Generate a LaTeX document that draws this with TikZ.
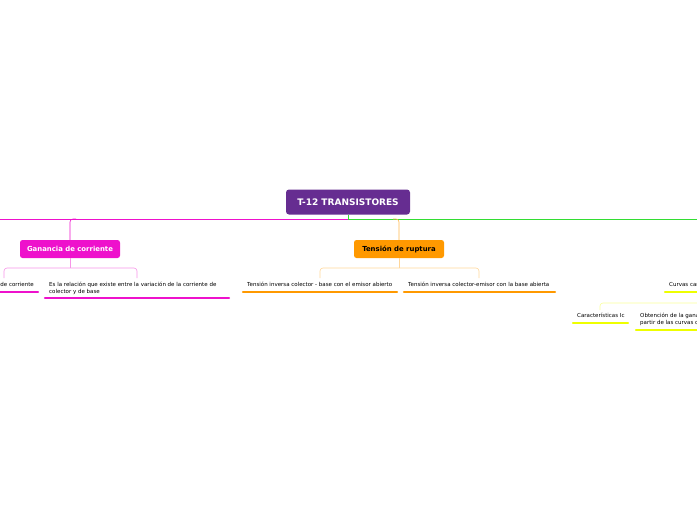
\documentclass[tikz,border=0pt]{standalone}
\usepackage{fontspec}
\setmainfont{DejaVu Sans}
\begin{document}
\begin{tikzpicture}[x=1pt,y=-1pt,
  main/.style={fill=mpurple,rounded corners=3pt,text=white,font=\bfseries\fontsize{9}{10}\selectfont,minimum width=124pt,minimum height=25pt,inner sep=0pt},
  topic/.style={rounded corners=2.5pt,font=\bfseries\fontsize{6.9}{8}\selectfont,minimum height=18pt,inner sep=0pt},
  leaf/.style={font=\fontsize{5.5}{7}\selectfont,align=left,inner sep=0pt,anchor=north west},
  ul/.style={line width=2.2pt,line cap=round}]
\definecolor{mpurple}{HTML}{662D91}
\definecolor{mmag}{HTML}{EE11CC}
\definecolor{mora}{HTML}{FF9900}
\definecolor{mgreen}{HTML}{33DD33}
\definecolor{myel}{HTML}{EEFF00}
\useasboundingbox (0,0) rectangle (697,520);
\clip (0,0) rectangle (697,520);
% root
\node[main] (root) at (348,202) {T-12 TRANSISTORES};
\coordinate (hj) at (348,219);
\coordinate (hl) at (0,219);
\coordinate (hr) at (697,219);
\draw[mmag,line width=0.6pt] (hl) -- (hj);
\draw[mgreen,line width=0.6pt] (hj) -- (hr);
\draw[mgreen,line width=0.8pt] (root.south) -- (hj);
% Ganancia
\node[topic,fill=mmag,text=white,minimum width=100pt] (g) at (70,249) {Ganancia de corriente};
\draw[mmag,line width=0.6pt,rounded corners=3pt] (g.north) -- (70,219) -- (76,219);
\draw[mmag!45,line width=0.6pt] (g.south) -- (70,268);
\draw[mmag!45,line width=0.6pt,rounded corners=3pt] (4,278) -- (4,268) -- (137,268) -- (137,278);
\node[leaf,anchor=north east] (g1) at (34,282) {de corriente};
\draw[mmag,ul] (0,292) -- (38,292);
\node[leaf] (g2) at (49,282) {Es la relación que existe entre la variación de la corriente de\\colector y de base};
\draw[mmag,ul] (45,298) -- (229,298);
% Tension
\node[topic,fill=mora,text=black,minimum width=90pt] (t) at (399,249) {Tensión de ruptura};
\draw[mora!70,line width=0.6pt,rounded corners=3pt] (393,219) -- (399,219) -- (t.north);
\draw[mora!40,line width=0.6pt] (t.south) -- (399,268);
\draw[mora!40,line width=0.6pt,rounded corners=3pt] (320,278) -- (320,268) -- (479,268) -- (479,278);
\node[leaf] (t1) at (247,282) {Tensión inversa colector - base con el emisor abierto};
\draw[mora,ul] (243,292) -- (397,292);
\node[leaf] (t2) at (408,282) {Tensión inversa colector-emisor con la base abierta};
\draw[mora,ul] (404,292) -- (555,292);
% Curvas
\node[leaf] (c) at (669,282) {Curvas características};
\draw[myel,ul] (665,292) -- (700,292);
\draw[myel!40,line width=0.6pt,rounded corners=3pt] (600,310) -- (600,303) -- (700,303);
\node[leaf] (c1) at (577,313) {Características Ic};
\draw[myel,ul] (573,323) -- (628,323);
\node[leaf] (c2) at (640,313) {Obtención de la ganancia de corriente a\\partir de las curvas características};
\draw[myel,ul] (636,330) -- (700,330);
\end{tikzpicture}
\end{document}
